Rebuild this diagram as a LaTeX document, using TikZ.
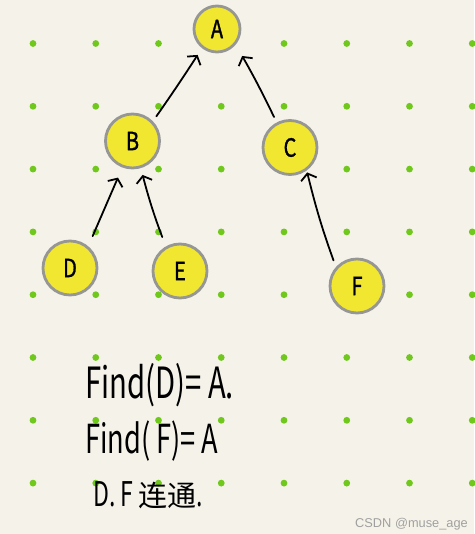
\documentclass[tikz,border=0pt]{standalone}
\usepackage{fontspec}
\usepackage{tikz}
\usetikzlibrary{arrows.meta}
\newfontfamily\hand[FakeStretch=0.68]{Noto Sans CJK SC}
\newfontfamily\letterhand[FakeStretch=0.8,FakeBold=1.2]{Noto Sans CJK SC}
\newfontfamily\cjk{Noto Sans CJK SC}
\newfontfamily\creditfont{Liberation Sans}
\definecolor{paper}{RGB}{245,243,233}
\definecolor{dotgreen}{RGB}{112,200,28}
\definecolor{setyellow}{RGB}{241,230,48}
\definecolor{ringgray}{RGB}{150,150,148}
\definecolor{markgray}{RGB}{160,160,160}
\tikzset{
  elem/.style={
    circle,
    draw=ringgray,
    line width=2.8pt,
    fill=setyellow,
    minimum size=54pt,
    inner sep=0pt,
    font=\letterhand\fontsize{25}{25}\selectfont
  },
  rootelem/.style={
    elem,
    minimum size=46pt
  },
  griddot/.style={
    fill=dotgreen
  },
  link/.style={
    -{Straight Barb[length=6pt,width=16pt]},
    line width=1.8pt,
    line cap=round,
    black
  },
  note/.style={
    anchor=base west,
    inner sep=0pt,
    font=\hand\fontsize{43}{43}\selectfont
  }
}

\begin{document}
\begin{tikzpicture}[x=1pt,y=-1pt]
  \path[fill=paper,use as bounding box] (0,0) rectangle (474,534);
  \foreach \i in {0,...,7}
    \foreach \j in {0,...,7}
      \fill[griddot] (33+62.75*\i,43.5+62.8*\j) circle (3.4);

  \node[rootelem] (A) at (217,29) {A};
  \node[elem] (B) at (132.5,141) {B};
  \node[elem] (C) at (290,147.5) {C};
  \node[elem] (D) at (70,268) {D};
  \node[elem] (E) at (180,271) {E};
  \node[elem] (F) at (357,286) {F};

  \draw[link,shorten <=6pt,shorten >=8pt] (B.44) to[bend right=1] (A.232);
  \draw[link,shorten <=6pt,shorten >=13pt] (C.118) to[bend right=2] (A.320);
  \draw[link,shorten <=11pt,shorten >=11pt] (D.50) -- (B.249);
  \draw[link,shorten <=10pt,shorten >=7pt] (E.120) to[bend left=3] (B.287);
  \draw[link,shorten <=7pt,shorten >=2pt] (F.138) to[bend left=3] (C.306);

  \node[note] (find1) at (85,398) {Find(D)= A.};
  \node[note,font=\hand\fontsize{40}{40}\selectfont] (find2) at (85,453) {Find( F)= A};
  \node[note,font=\hand\fontsize{34}{34}\selectfont] (linked) at (93,506) {D. F {\cjk\fontsize{29}{29}\selectfont 连通}.};

  \node[anchor=base east,inner sep=0pt,text=markgray,font=\creditfont\fontsize{12.8}{12.8}\selectfont] (credit) at (468,527) {CSDN @muse\_age};
\end{tikzpicture}
\end{document}
